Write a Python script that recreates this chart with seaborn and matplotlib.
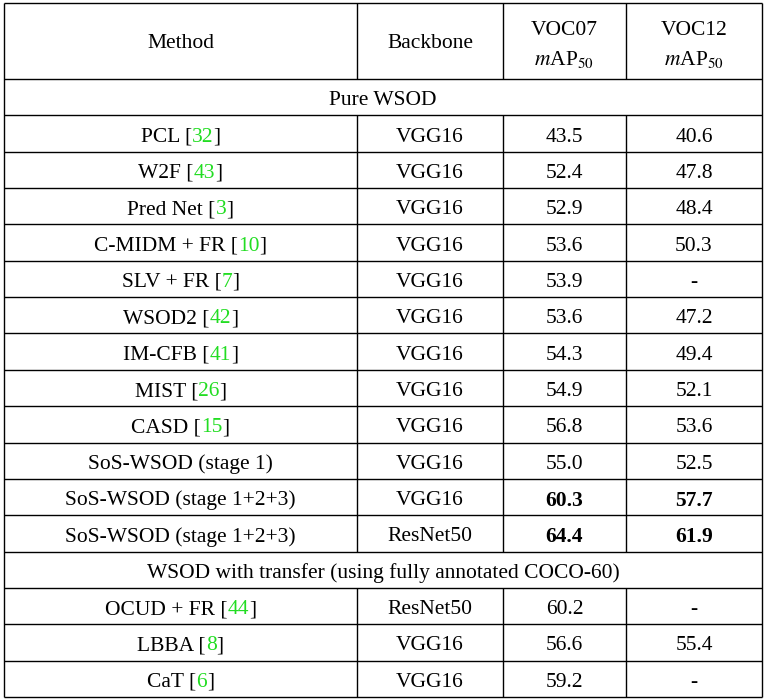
import matplotlib
matplotlib.use("Agg")
import matplotlib.pyplot as plt
import seaborn as sns

sns.set_theme(style="white")
plt.rcParams['font.family'] = ['Liberation Serif', 'DejaVu Serif']
plt.rcParams['mathtext.fontset'] = 'stix'
plt.rcParams['text.color'] = 'black'

methods = ["PCL", "W2F", "Pred Net", "C-MIDM + FR", "SLV + FR", "WSOD2", "IM-CFB", "MIST", "CASD",
           "SoS-WSOD (stage 1)", "SoS-WSOD (stage 1+2+3)", "SoS-WSOD (stage 1+2+3)",
           "OCUD + FR", "LBBA", "CaT"]
cites = ["32", "43", "3", "10", "7", "42", "41", "26", "15", "", "", "", "44", "8", "6"]
backbones = ["VGG16"] * 11 + ["ResNet50", "ResNet50", "VGG16", "VGG16"]
voc07 = ["43.5", "52.4", "52.9", "53.6", "53.9", "53.6", "54.3", "54.9", "56.8", "55.0", "60.3", "64.4",
         "60.2", "56.6", "59.2"]
voc12 = ["40.6", "47.8", "48.4", "50.3", "-", "47.2", "49.4", "52.1", "53.6", "52.5", "57.7", "61.9",
         "-", "55.4", "-"]
bold_rows = [10, 11]
sections = ["Pure WSOD", "WSOD with transfer (using fully annotated COCO-60)"]

W, H = 766, 700
fig = plt.figure(figsize=(7.66, 7.0), dpi=100)
ax = fig.add_axes([0, 0, 1, 1])
ax.set_xlim(0, W); ax.set_ylim(H, 0); ax.axis('off')

xs = [4, 357, 503, 626, 762]
fs = 15.5
lw = 1.0
top, hb = 3, 79
rows = [("sec", 0)] + [("d", i) for i in range(12)] + [("sec", 1)] + [("d", i) for i in range(12, 15)]
rh = (697 - hb) / len(rows)
ys = [hb + rh * k for k in range(len(rows) + 1)]
bottom = ys[-1]

ax.hlines([top] + ys, xs[0], xs[-1], color='black', lw=lw)
ax.vlines([xs[0], xs[-1]], top, bottom, color='black', lw=lw)
ax.vlines(xs[1:4], top, hb, color='black', lw=lw)
for k, (kind, i) in enumerate(rows):
    if kind == "d":
        ax.vlines(xs[1:4], ys[k], ys[k + 1], color='black', lw=lw)

cx = [(xs[j] + xs[j + 1]) / 2 for j in range(4)]
hy = (top + hb) / 2
va = 'center_baseline'
ax.text(cx[0], hy, "Method", ha='center', va=va, fontsize=fs)
ax.text(cx[1], hy, "Backbone", ha='center', va=va, fontsize=fs)
for j, name in [(2, "VOC07"), (3, "VOC12")]:
    ax.text(cx[j], hy - 13, name, ha='center', va=va, fontsize=fs)
    ax.text(cx[j], hy + 16, r"$m$AP$_{50}$", ha='center', va=va, fontsize=fs)

green = "#22dd22"
pieces_all = []
for k, (kind, i) in enumerate(rows):
    yc = (ys[k] + ys[k + 1]) / 2 + 1
    if kind == "sec":
        ax.text((xs[0] + xs[-1]) / 2, yc, sections[i], ha='center', va=va, fontsize=fs)
        continue
    if cites[i]:
        parts = [(methods[i] + " [", 'black'), (cites[i], green), ("]", 'black')]
    else:
        parts = [(methods[i], 'black')]
    ts = [ax.text(0, yc, p, ha='left', va=va, fontsize=fs, color=c) for p, c in parts]
    pieces_all.append((ts, cx[0]))
    ax.text(cx[1], yc, backbones[i], ha='center', va=va, fontsize=fs)
    wt = 'bold' if i in bold_rows else 'normal'
    ax.text(cx[2], yc, voc07[i], ha='center', va=va, fontsize=fs, weight=wt)
    ax.text(cx[3], yc, voc12[i], ha='center', va=va, fontsize=fs, weight=wt)

fig.canvas.draw()
r = fig.canvas.get_renderer()
for ts, c in pieces_all:
    ws = [t.get_window_extent(r).width for t in ts]
    x = c - sum(ws) / 2
    for t, w in zip(ts, ws):
        t.set_x(x)
        x += w

fig.savefig("out.png", dpi=100, facecolor='white')
